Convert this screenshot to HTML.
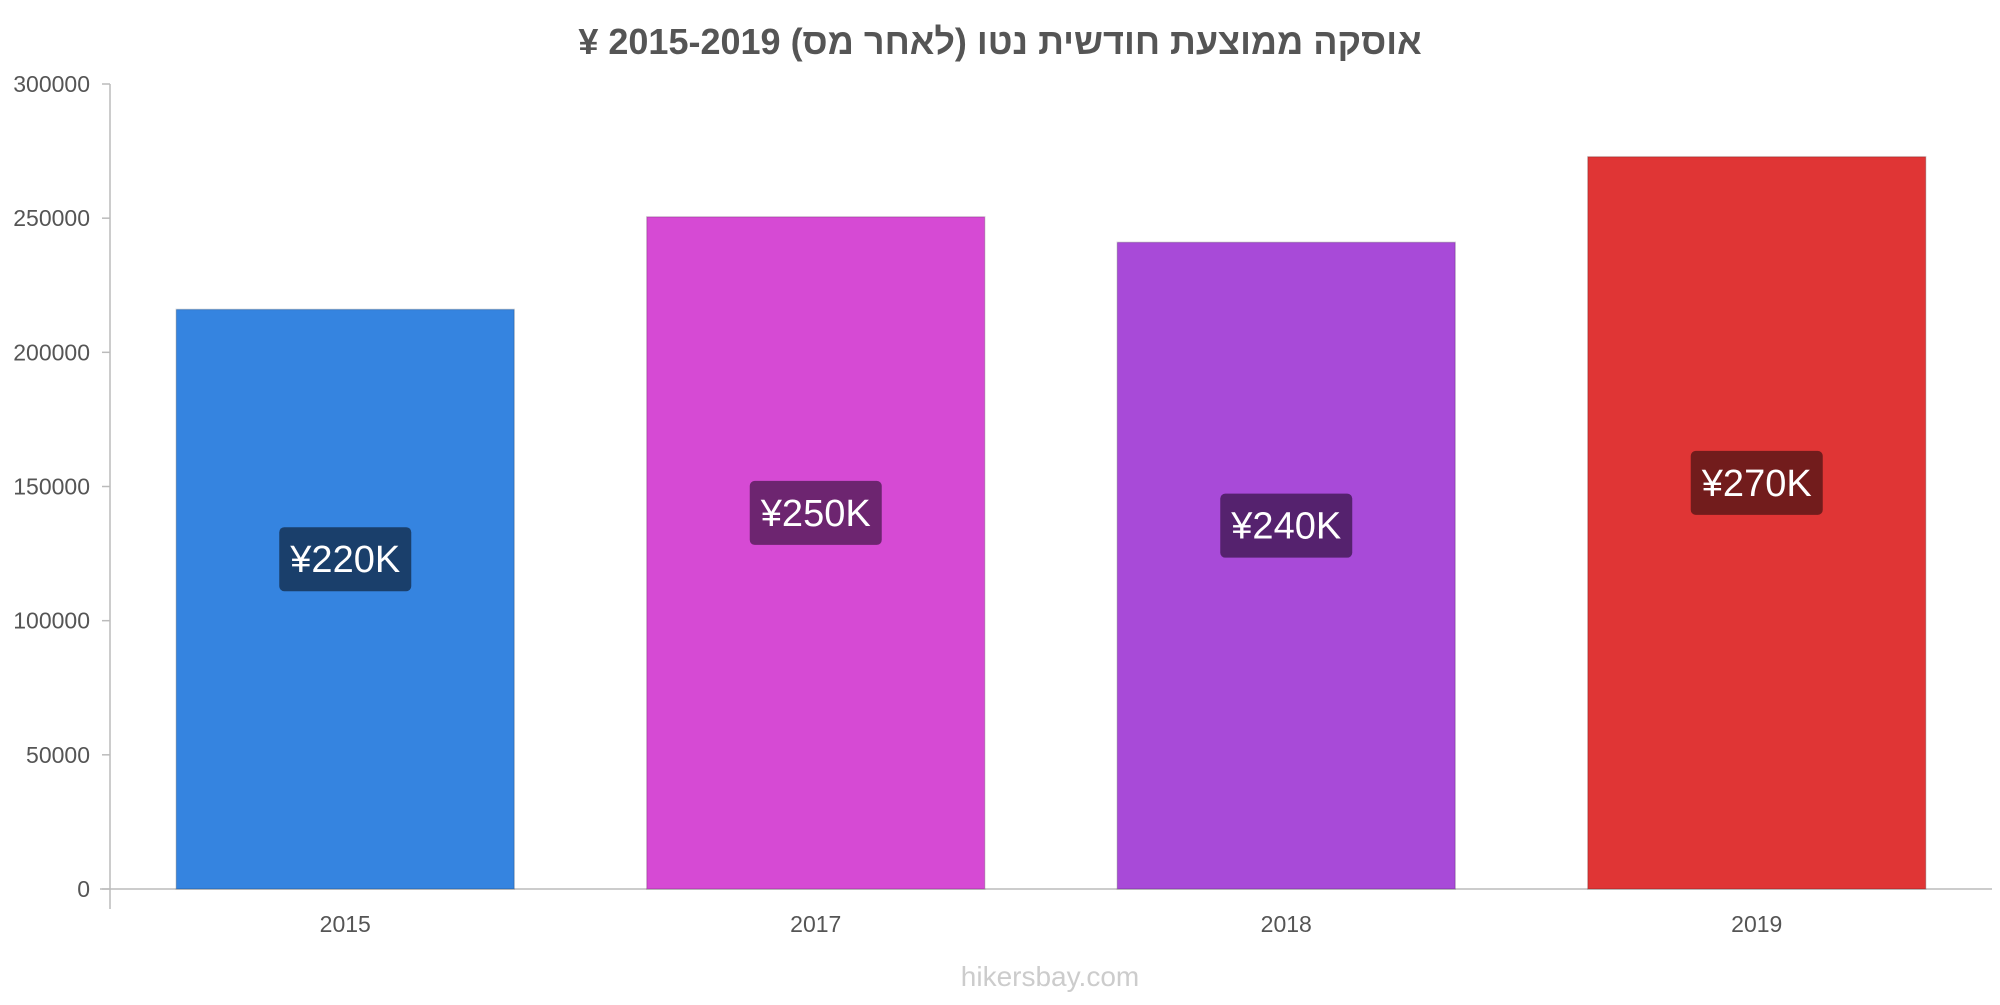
<!DOCTYPE html>
<html><head><meta charset="utf-8"><style>
body{margin:0;background:#fff;}
svg text{font-family:"Liberation Sans","Noto Sans CJK JP",sans-serif;}
</style></head><body>
<svg id="chart" width="2000" height="1000" xmlns="http://www.w3.org/2000/svg">
<text x="1000" y="54" text-anchor="middle" direction="rtl" font-size="36" font-weight="bold" fill="#555">אוסקה ממוצעת חודשית נטו (לאחר מס) 2015-2019 ¥</text>
<g id="yaxis"></g>
<g id="xaxis"></g>
<g id="bars"></g>
<text x="1050" y="986" text-anchor="middle" font-size="28" fill="#ccc">hikersbay.com</text>
</svg>
<script>
const categories = ["2015","2017","2018","2019"];
const values = [216000, 250500, 241000, 272900];
const valueLabels = ["¥220K","¥250K","¥240K","¥270K"];
const yTicks = [0,50000,100000,150000,200000,250000,300000];
const barColors = ["#3584e0","#d64ad4","#a84ad8","#e03535"];
const labelColors = ["#1a3f6b","#6d2570","#55226e","#721c1c"];

const NS="http://www.w3.org/2000/svg";
const x0=110, x1=1992, y0=889, yTop=84, yMax=300000;
const band=(x1-x0)/categories.length, barW=338;
const yScale=v=>y0-(v/yMax)*(y0-yTop);
const xCenter=i=>x0+band*(i+0.5);
function mk(tag,attrs,parent){const e=document.createElementNS(NS,tag);for(const k in attrs)e.setAttribute(k,attrs[k]);parent.appendChild(e);return e;}
const ya=document.getElementById('yaxis'), xa=document.getElementById('xaxis'), bg=document.getElementById('bars');
const yl=mk('line',{x1:x0,y1:yTop,x2:x0,y2:y0+20,stroke:'#bbb','stroke-width':1.5},ya);


yTicks.forEach(t=>{
  const tx=mk('text',{x:x0-20,y:yScale(t)+8,'text-anchor':'end','font-size':23,fill:'#555'},ya);
  tx.textContent=t;
  
  
  const tl=mk('line',{x1:x0-8,y1:yScale(t),x2:x0,y2:yScale(t),stroke:'#bbb','stroke-width':1.5},ya);
  
  
});
categories.forEach((c,i)=>{
  const top=yScale(values[i]);
  const r=mk('rect',{x:xCenter(i)-barW/2,y:top,width:barW,height:y0-top,fill:barColors[i],stroke:'rgba(0,0,0,0.15)','stroke-width':1.5},bg);
  
  
  const my=(top+y0)/2-40;
  const lb=mk('rect',{x:xCenter(i)-66,y:my-32,width:132,height:64,rx:5,fill:labelColors[i]},bg);
  
  
  const lt=mk('text',{x:xCenter(i),y:my+13,'text-anchor':'middle','font-size':38,fill:'#fff'},bg);
  lt.textContent=valueLabels[i];
  
  
  const xt=mk('text',{x:xCenter(i),y:932,'text-anchor':'middle','font-size':23,fill:'#555'},xa);
  xt.textContent=c;
  
  
});
const xl=mk('line',{x1:x0-10,y1:y0,x2:x1,y2:y0,stroke:'#bbb','stroke-width':1.5},xa);


</script>
</body></html>
